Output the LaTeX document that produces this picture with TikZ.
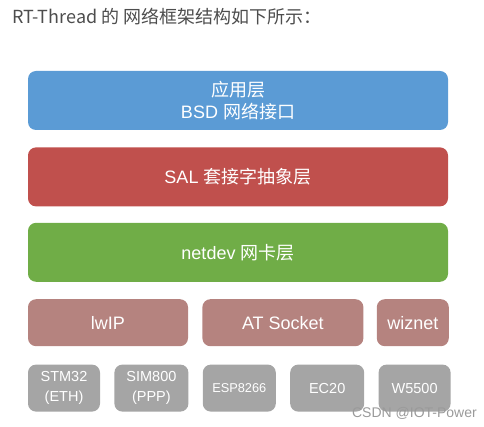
\documentclass[tikz,border=0pt]{standalone}
\usepackage{fontspec}
\setmainfont{Liberation Sans}
\newfontfamily\cjk{Noto Sans CJK SC}
\usetikzlibrary{positioning}
\definecolor{appblue}{HTML}{5B9BD5}
\definecolor{salred}{HTML}{C0504D}
\definecolor{devgreen}{HTML}{70AD47}
\definecolor{stackrose}{HTML}{B5837F}
\definecolor{chipgray}{HTML}{A5A5A5}
\definecolor{titlegray}{HTML}{4D4D4D}
\definecolor{markgray}{HTML}{9A9A9A}

\begin{document}
\begin{tikzpicture}[x=1pt,y=-1pt,node distance=17pt,
  layer/.style={rounded corners=8pt,text=white,align=center,inner sep=0pt,
    minimum width=420pt,minimum height=59pt,font=\fontsize{18}{22}\selectfont},
  stack/.style={layer,fill=stackrose,minimum width=#1,minimum height=47pt},
  chip/.style={layer,fill=chipgray,minimum width=#1,minimum height=47pt,
    font=\fontsize{14.5}{19.5}\selectfont}]

\useasboundingbox (0,0) rectangle (484,427);

\node[anchor=base west,text=titlegray,inner sep=0pt,font=\cjk\fontsize{18}{22}\selectfont](title) at (12,23.5){RT-Thread 的 网络框架结构如下所示：};

\node[layer,fill=appblue](app) at (238,100.5){{\cjk 应用层}\\BSD {\cjk 网络接口}};
\node[layer,fill=salred](sal)[below=of app]{SAL {\cjk 套接字抽象层}};
\node[layer,fill=devgreen](dev)[below=16pt of sal]{netdev {\cjk 网卡层}};

\node[stack=160pt](lwip)[below right=17pt and 0pt of dev.south west]{lwIP};
\node[stack=161pt](atsock)[right=14pt of lwip]{AT Socket};
\node[stack=72pt](wiz)[right=13pt of atsock]{wiznet};

\node[chip=72pt](stm)[below right=18pt and 0pt of lwip.south west]{STM32\\(ETH)};
\node[chip=74pt](sim)[right=14pt of stm]{SIM800\\(PPP)};
\node[chip=73pt,font=\fontsize{12.8}{16}\selectfont](esp)[right=14pt of sim]{ESP8266};
\node[chip=74pt](ec)[right=14pt of esp]{EC20};
\node[chip=72pt](w55)[right=14pt of ec]{W5500};

\node[anchor=base east,text=markgray,inner sep=0pt,font=\fontsize{14}{16}\selectfont](mark) at (477,417.7){CSDN @IOT-Power};

\end{tikzpicture}
\end{document}
